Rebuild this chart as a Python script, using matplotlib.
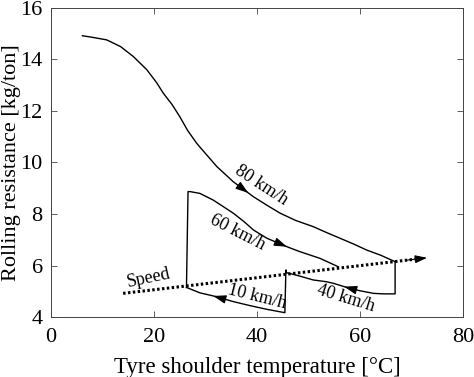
import numpy as np
import matplotlib
matplotlib.use("Agg")
import matplotlib.pyplot as plt

plt.rcParams['font.family'] = ['Liberation Serif', 'DejaVu Serif']

# 80 km/h (warm-up)
x80 = [6.1, 8.0, 10.8, 13.5, 16.0, 18.6, 20.5, 21.8, 23.5, 25.0, 26.5, 28.3, 30.2, 32.2, 35.4, 39.3, 42.0, 44.5, 47.5, 50.9, 53.5, 56.1, 58.8, 61.3, 64.0, 66.8]
y80 = [14.92, 14.86, 14.76, 14.5, 14.11, 13.6, 13.1, 12.69, 12.25, 11.78, 11.25, 10.74, 10.3, 9.84, 9.25, 8.67, 8.33, 8.03, 7.75, 7.51, 7.28, 7.06, 6.83, 6.60, 6.40, 6.15]
# step down to 40 km/h
x40 = [66.8, 66.8, 64.5, 62.6, 60.0, 57.4, 55.0, 53.5, 50.9, 48.3, 45.8]
y40 = [6.15, 4.90, 4.90, 4.92, 5.02, 5.15, 5.30, 5.37, 5.44, 5.59, 5.72]
# step down to 10 km/h
x10 = [45.6, 45.6, 45.4, 41.9, 38.5, 35.4, 31.5, 28.9, 26.3]
y10 = [5.72, 5.83, 4.17, 4.30, 4.45, 4.60, 4.82, 4.94, 5.15]
# step up to 60 km/h
x60 = [26.3, 26.6, 27.0, 28.9, 31.5, 33.5, 35.4, 37.5, 39.3, 41.9, 45.8, 48.3, 52.2, 55.8]
y60 = [5.15, 8.87, 8.87, 8.80, 8.54, 8.28, 8.03, 7.70, 7.38, 7.06, 6.73, 6.54, 6.28, 5.95]
# speed arrow
speed_x = [14.0, 73.0]
speed_y = [4.92, 6.30]

labels = ["80 km/h", "60 km/h", "40 km/h", "10 km/h", "Speed"]
label_pos = [(40.8, 9.1), (36.2, 7.3), (57.2, 4.72), (39.9, 4.8), (18.9, 5.52)]
label_rot = [-33, -27, -17, -14, 12]

# arrow x positions on the 80, 60, 40, 10 km/h curves
arrow_x = [38.3, 45.8, 56.9, 31.5]

fig = plt.figure(figsize=(4.74, 3.77), dpi=100)
ax = fig.add_axes([0.1076, 0.159, 0.8694, 0.820])

lw = 1.0
ax.plot(x80, y80, color='black', lw=lw)
ax.plot(x40, y40, color='black', lw=lw)
ax.plot(x10, y10, color='black', lw=lw)
ax.plot(x60, y60, color='black', lw=lw)

slope = (speed_y[1] - speed_y[0]) / (speed_x[1] - speed_x[0])
ax.plot([speed_x[0], speed_x[1] - 2.0], [speed_y[0], speed_y[1] - 2.0 * slope],
        color='black', lw=2.2, ls=(0, (0.8, 0.8)))
ax.annotate('', xy=(speed_x[1], speed_y[1]), xytext=(speed_x[1] - 4.0, speed_y[1] - 4.0 * slope),
            arrowprops=dict(arrowstyle='-|>,head_length=0.6,head_width=0.2', color='black', lw=0.8,
                            shrinkA=0, shrinkB=0, mutation_scale=12))

series = [(x80, y80, 1), (x60, y60, 1), (x40, y40, -1), (x10, y10, -1)]
for (sx, sy, d), axx in zip(series, arrow_x):
    sxa = np.array(sx); sya = np.array(sy)
    order = np.argsort(sxa)
    xs = sxa[order]; ys = sya[order]
    y0 = np.interp(axx, xs, ys)
    dx = 1.0 * d
    y1 = np.interp(axx - dx, xs, ys)
    ax.annotate('', xy=(axx, y0), xytext=(axx - dx, y1),
                arrowprops=dict(arrowstyle='-|>,head_length=0.6,head_width=0.2', color='black', lw=0.8,
                                mutation_scale=13, shrinkA=0, shrinkB=0))

for t, (px, py), r in zip(labels, label_pos, label_rot):
    ax.text(px, py, t, rotation=r, ha='center', va='center', fontsize=13, rotation_mode='anchor')

ax.set_xlim(0, 80)
ax.set_ylim(4, 16)
ax.set_xticks([0, 20, 40, 60, 80])
ax.set_yticks([4, 6, 8, 10, 12, 14, 16])
ax.tick_params(direction='in', top=True, right=True, labelsize=16, length=4, width=0.6, color='#444444')
ax.tick_params(axis='x', pad=8)
ax.tick_params(axis='y', pad=6)
for s in ax.spines.values():
    s.set_linewidth(0.7)
    s.set_color('#444444')
ax.set_xlabel('Tyre shoulder temperature [°C]', fontsize=16.5)
ax.set_ylabel('Rolling resistance [kg/ton]', fontsize=16)
ax.yaxis.set_label_coords(-0.074, 0.5)
ax.xaxis.set_label_coords(0.5, -0.128)

fig.savefig('out.png', dpi=100)
